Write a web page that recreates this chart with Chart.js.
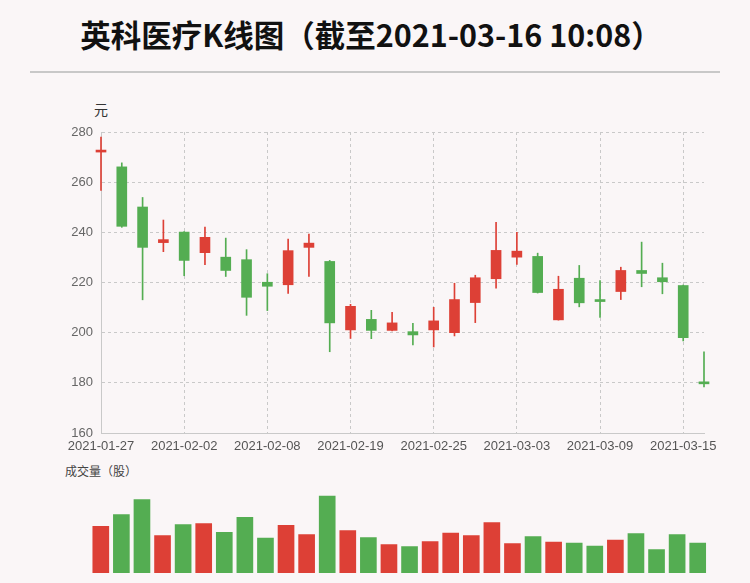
<!DOCTYPE html>
<html>
<head>
<meta charset="utf-8">
<script src="https://cdn.jsdelivr.net/npm/chart.js@4.4.0/dist/chart.umd.min.js"></script>
<style>
  body { margin: 0; width: 750px; height: 583px; background: #faf6f7; position: relative; overflow: hidden; font-family: "Liberation Sans", Arial, sans-serif; }
  #title { position: absolute; left: 0; top: 12px; width: 742px; text-align: center; font: bold 30.5px "Noto Sans CJK SC", sans-serif; color: #111; }
  #rule { position: absolute; left: 30px; top: 71px; width: 690px; height: 2px; background: #c8c8c8; }
  #unit { position: absolute; left: 94px; top: 99px; font: 14px "Noto Sans CJK SC", sans-serif; color: #333; }
  #volLabel { position: absolute; left: 65px; top: 462px; font: 12px "Noto Sans CJK SC", sans-serif; color: #444; }
  #kWrap { position: absolute; left: 0; top: 0; width: 750px; height: 460px; }
  #vWrap { position: absolute; left: 0; top: 460px; width: 750px; height: 123px; }
</style>
</head>
<body>
<div id="title">英科医疗K线图（截至2021-03-16 10:08）</div>
<div id="rule"></div>
<div id="unit">元</div>
<div id="volLabel">成交量（股）</div>
<div id="kWrap"><canvas id="kChart" width="750" height="460"></canvas></div>
<div id="vWrap"><canvas id="vChart" width="750" height="123"></canvas></div>
<script>
const dates = [
  "2021-01-27", "2021-01-28", "2021-01-29", "2021-02-01", "2021-02-02", "2021-02-03",
  "2021-02-04", "2021-02-05", "2021-02-08", "2021-02-09", "2021-02-10", "2021-02-18",
  "2021-02-19", "2021-02-22", "2021-02-23", "2021-02-24", "2021-02-25", "2021-02-26",
  "2021-03-01", "2021-03-02", "2021-03-03", "2021-03-04", "2021-03-05", "2021-03-08",
  "2021-03-09", "2021-03-10", "2021-03-11", "2021-03-12", "2021-03-15", "2021-03-16",
];
const openP = [
  272.0, 266.1, 250.1, 235.9, 240.1, 231.9, 230.1, 229.1, 220.1, 219.1,
  234.0, 228.4, 201.1, 205.3, 200.9, 200.4, 201.1, 200.0, 212.0, 221.5,
  230.1, 230.4, 205.1, 221.7, 213.2, 216.4, 224.8, 221.9, 218.8, 180.4,
];
const closeP = [
  272.4, 242.4, 234.0, 237.1, 228.8, 238.0, 224.8, 214.1, 218.5, 232.7,
  235.7, 203.9, 210.5, 200.9, 203.9, 199.1, 204.7, 213.2, 221.9, 232.8,
  232.5, 216.0, 217.3, 211.9, 212.4, 224.8, 223.6, 220.3, 198.0, 179.6,
];
const highP = [
  278.0, 267.7, 253.9, 244.9, 240.3, 242.1, 237.7, 233.1, 223.5, 237.3,
  239.3, 228.8, 211.3, 208.9, 208.1, 203.7, 210.1, 219.7, 222.9, 244.0,
  240.0, 231.7, 222.5, 226.8, 220.8, 226.1, 236.1, 227.7, 219.0, 192.4,
];
const lowP = [
  256.7, 242.0, 213.1, 232.3, 222.7, 227.1, 222.4, 206.9, 208.8, 215.6,
  222.4, 192.4, 197.7, 197.6, 200.7, 195.1, 194.3, 198.7, 204.0, 217.7,
  227.2, 215.8, 205.0, 210.3, 206.1, 213.2, 218.3, 215.5, 196.7, 178.4,
];
const volumes = [
  934000, 1168000, 1468000, 748000, 968000, 988000, 814000, 1114000, 700000, 954000,
  768000, 1540000, 848000, 708000, 568000, 528000, 628000, 800000, 748000, 1008000,
  588000, 728000, 620000, 600000, 540000, 660000, 788000, 468000, 768000, 600000,
];

const UP = "#dd4036";
const DOWN = "#54ad52";
const colors = openP.map((o, i) => (closeP[i] >= o ? UP : DOWN));

new Chart(document.getElementById("kChart"), {
  type: "bar",
  data: {
    labels: dates,
    datasets: [
      {
        data: openP.map((o, i) => [o, closeP[i]]),
        backgroundColor: colors,
        barThickness: 10,
        minBarLength: 2,
        grouped: false,
        clip: false,
      },
      {
        data: lowP.map((l, i) => [l, highP[i]]),
        backgroundColor: colors,
        barThickness: 1,
        grouped: false,
        clip: false,
      },
    ],
  },
  options: {
    responsive: false,
    animation: false,
    layout: { padding: { left: 0, right: 46, top: 132, bottom: 0 } },
    plugins: { legend: { display: false }, tooltip: { enabled: false } },
    scales: {
      x: {
        offset: false,
        grid: {
          offset: false,
          drawTicks: false,
          color: (c) => (c.index % 4 === 0 && c.index > 0 ? "#c9c9c9" : "transparent"),
        },
        border: { color: "#c9c9c9", dash: [3, 3] },
        ticks: {
          autoSkip: false,
          maxRotation: 0,
          padding: 6,
          color: "#555",
          font: { family: "Liberation Sans", size: 13 },
          callback: (v, i) => (i % 4 === 0 ? dates[i] : ""),
        },
        afterFit: (s) => { s.height = 27; },
      },
      y: {
        min: 160,
        max: 280,
        grid: { drawTicks: false, color: "#c9c9c9" },
        border: { color: "#c9c9c9", dash: [3, 3] },
        ticks: {
          stepSize: 20,
          padding: 8,
          color: "#666",
          font: { family: "Liberation Sans", size: 13 },
        },
        afterFit: (s) => { s.width = 101; },
      },
    },
  },
});

new Chart(document.getElementById("vChart"), {
  type: "bar",
  data: {
    labels: dates,
    datasets: [
      {
        data: volumes,
        backgroundColor: colors,
        barThickness: 16,
      },
    ],
  },
  options: {
    responsive: false,
    animation: false,
    layout: { padding: { left: 90.5, right: 42, top: 20, bottom: 10 } },
    plugins: { legend: { display: false }, tooltip: { enabled: false } },
    scales: {
      x: { display: false, offset: true },
      y: { display: false, min: 0, max: 1860000 },
    },
  },
});
</script>
</body>
</html>
